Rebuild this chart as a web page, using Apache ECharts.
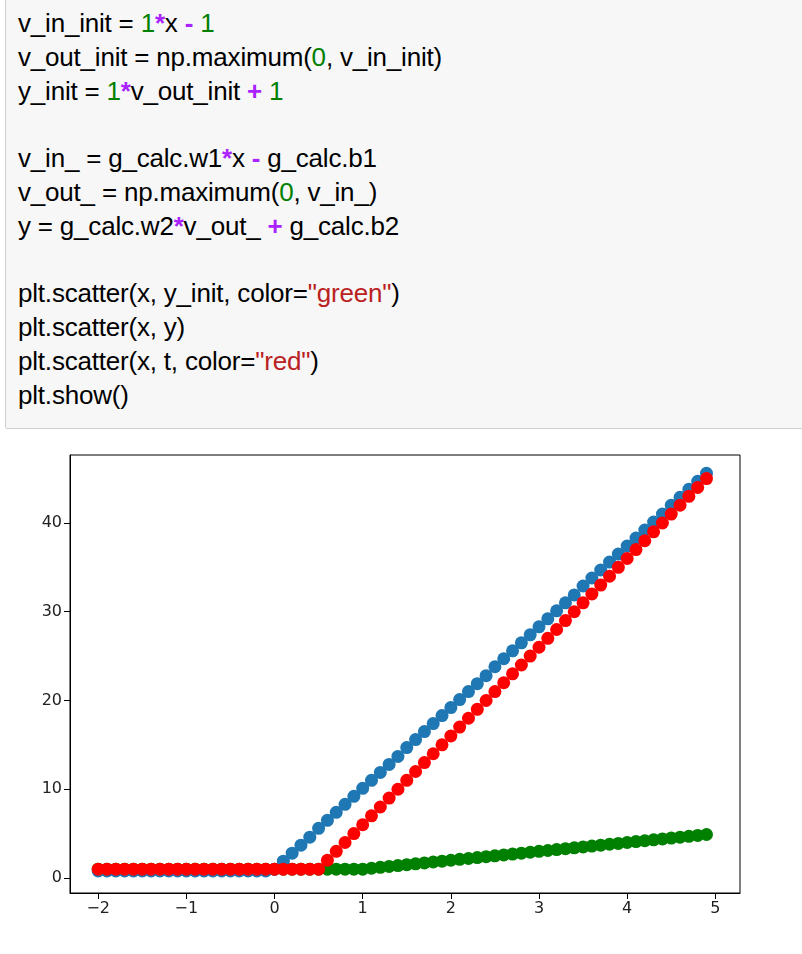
<!DOCTYPE html>
<html><head><meta charset="utf-8">
<script src="https://cdn.jsdelivr.net/npm/echarts@6/dist/echarts.min.js"></script>
<style>
body{margin:0;background:#fff;width:802px;height:954px;overflow:hidden;position:relative}
#code{position:absolute;left:5px;top:-1px;width:820px;height:430px;background:#f7f7f7;border:1px solid #cfcfcf;border-radius:2px;box-sizing:border-box;padding:7px 0 0 12px;font-family:"Liberation Sans",Arial,sans-serif;font-size:26px;line-height:33.8px;color:#000;white-space:pre;letter-spacing:-0.2px}
.n{color:#008000}.o{color:#aa22ff;font-weight:bold}.s{color:#ba2121}
#chart{position:absolute;left:0;top:0;width:802px;height:954px}
</style></head><body>
<div id="chart"></div>
<div id="code">v_in_init = <span class="n">1</span><span class="o">*</span>x <span class="o">-</span> <span class="n">1</span>
v_out_init = np.maximum(<span class="n">0</span>, v_in_init)
y_init = <span class="n">1</span><span class="o">*</span>v_out_init <span class="o">+</span> <span class="n">1</span>

v_in_ = g_calc.w1<span class="o">*</span>x <span class="o">-</span> g_calc.b1
v_out_ = np.maximum(<span class="n">0</span>, v_in_)
y = g_calc.w2<span class="o">*</span>v_out_ <span class="o">+</span> g_calc.b2

plt.scatter(x, y_init, color=<span class="s">"green"</span>)
plt.scatter(x, y)
plt.scatter(x, t, color=<span class="s">"red"</span>)
plt.show()</div>
<script>
const xs = [-2.0,-1.9,-1.8,-1.7,-1.6,-1.5,-1.4,-1.3,-1.2,-1.1,-1.0,-0.9,-0.8,-0.7,-0.6,-0.5,-0.4,-0.3,-0.2,-0.1,
0.0,0.1,0.2,0.3,0.4,0.5,0.6,0.7,0.8,0.9,1.0,1.1,1.2,1.3,1.4,1.5,1.6,1.7,1.8,1.9,2.0,2.1,2.2,2.3,2.4,2.5,2.6,2.7,2.8,2.9,
3.0,3.1,3.2,3.3,3.4,3.5,3.6,3.7,3.8,3.9,4.0,4.1,4.2,4.3,4.4,4.5,4.6,4.7,4.8,4.9];
const yInit = [1,1,1,1,1,1,1,1,1,1,1,1,1,1,1,1,1,1,1,1,
1,1,1,1,1,1,1,1,1,1,1.0,1.1,1.2,1.3,1.4,1.5,1.6,1.7,1.8,1.9,2.0,2.1,2.2,2.3,2.4,2.5,2.6,2.7,2.8,2.9,
3.0,3.1,3.2,3.3,3.4,3.5,3.6,3.7,3.8,3.9,4.0,4.1,4.2,4.3,4.4,4.5,4.6,4.7,4.8,4.9];
const yFit = [0.8,0.8,0.8,0.8,0.8,0.8,0.8,0.8,0.8,0.8,0.8,0.8,0.8,0.8,0.8,0.8,0.8,0.8,0.8,0.8,
1.0,1.9,2.8,3.7,4.6,5.6,6.5,7.4,8.3,9.2,10.1,11.0,11.9,12.8,13.7,14.7,15.6,16.5,17.4,18.3,19.2,20.1,21.0,21.9,22.8,23.8,24.7,25.6,26.5,27.4,
28.3,29.2,30.1,31.0,31.9,32.9,33.8,34.7,35.6,36.5,37.4,38.3,39.2,40.1,41.0,42.0,42.9,43.8,44.7,45.6];
const yTarget = [1,1,1,1,1,1,1,1,1,1,1,1,1,1,1,1,1,1,1,1,
1,1,1,1,1,1,2,3,4,5,6,7,8,9,10,11,12,13,14,15,16,17,18,19,20,21,22,23,24,25,
26,27,28,29,30,31,32,33,34,35,36,37,38,39,40,41,42,43,44,45];
const xTicks = [-2,-1,0,1,2,3,4,5];
const yTicks = [0,10,20,30,40];

const pair = ys => xs.map((x,i)=>[x,ys[i]]);
const fmt = v => String(v).replace('-', '\u2212');
const ch = echarts.init(document.getElementById('chart'));
const lab = {color:'#222',fontFamily:'DejaVu Sans',fontSize:16};
ch.setOption({
  animation:false,
  grid:{left:70,right:62,top:455,bottom:61,show:true,borderColor:'#000',borderWidth:1},
  xAxis:{type:'value',min:-2.32,max:5.28,splitLine:{show:false},
    axisLine:{onZero:false,lineStyle:{color:'#000'}},
    axisTick:{customValues:xTicks,length:6,lineStyle:{color:'#000'}},
    axisLabel:Object.assign({customValues:xTicks,formatter:fmt,margin:8},lab)},
  yAxis:{type:'value',min:-1.69,max:47.66,splitLine:{show:false},
    axisLine:{onZero:false,lineStyle:{color:'#000'}},
    axisTick:{customValues:yTicks,length:6,lineStyle:{color:'#000'}},
    axisLabel:Object.assign({customValues:yTicks,formatter:fmt,margin:8},lab)},
  series:[
    {type:'scatter',data:pair(yInit),symbolSize:13,itemStyle:{color:'#008000',opacity:1}},
    {type:'scatter',data:pair(yFit),symbolSize:13,itemStyle:{color:'#1f77b4',opacity:1}},
    {type:'scatter',data:pair(yTarget),symbolSize:13,itemStyle:{color:'#ff0000',opacity:1}}
  ]
});
</script>
</body></html>
